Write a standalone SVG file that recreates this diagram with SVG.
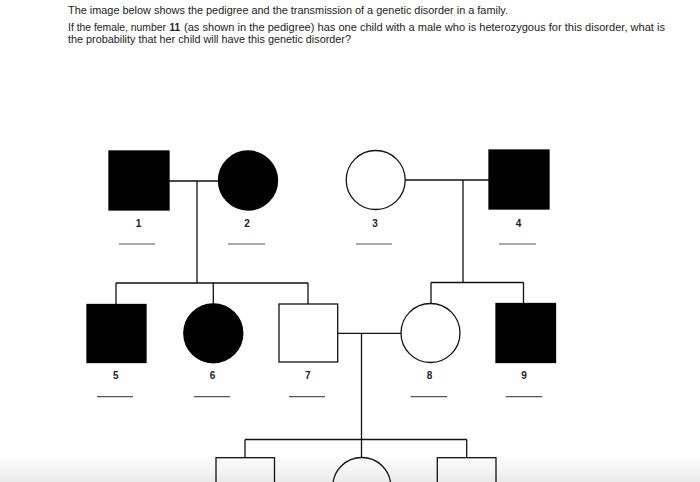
<svg xmlns="http://www.w3.org/2000/svg" width="700" height="482" viewBox="0 0 700 482">
<style>
.q{font-family:"Liberation Sans",Arial,sans-serif;font-size:10.5px;fill:#1a1a1a}
.lbl{font-family:"Liberation Sans",Arial,sans-serif;font-size:10px;font-weight:bold;fill:#222;text-anchor:middle}
.aff{fill:#000;stroke:#000;stroke-width:1.3}
.un{fill:#fff;stroke:#111;stroke-width:1.3}
.ln{stroke:#111;stroke-width:1.3;fill:none}
.ul{stroke:#555;stroke-width:1.2}
</style>
<defs>
<linearGradient id="fade" x1="0" y1="0" x2="0" y2="1">
<stop offset="0" stop-color="#000" stop-opacity="0"/>
<stop offset="1" stop-color="#000" stop-opacity="0.08"/>
</linearGradient>
</defs>
<rect width="700" height="482" fill="#fff"/>
<g id="question">
<text class="q" x="68" y="13.5" textLength="440" lengthAdjust="spacingAndGlyphs">The image below shows the pedigree and the transmission of a genetic disorder in a family.</text>
<text class="q" x="68" y="31" textLength="98" lengthAdjust="spacingAndGlyphs">If the female, number</text>
<text class="q" x="169.5" y="31" font-weight="bold" textLength="10.5" lengthAdjust="spacingAndGlyphs">11</text>
<text class="q" x="184" y="31" textLength="481" lengthAdjust="spacingAndGlyphs">(as shown in the pedigree) has one child with a male who is heterozygous for this disorder, what is</text>
<text class="q" x="68" y="42.5" textLength="283" lengthAdjust="spacingAndGlyphs">the probability that her child will have this genetic disorder?</text>
</g>
<g id="connectors">
<path class="ln" d="M169 181H218.5M197 181V283M116 283H308M116 283V304.5M213.3 283V304M308 283V304"/>
<path class="ln" d="M405.2 180H489M463 180V282.5M431 282.5H523.5M431 282.5V304M523.5 282.5V303.5"/>
<path class="ln" d="M337.7 333.3H401M361.5 333.3V457.5M245 439.5H466.7M245 439.5V457.7M466.7 439.5V457.7"/>
</g>
<g id="n1"><rect class="aff" x="109" y="151" width="60" height="59"/><text class="lbl" x="138.5" y="226.5">1</text><line class="ul" x1="119" y1="244" x2="155" y2="244"/></g>
<g id="n2"><circle class="aff" cx="248" cy="180.5" r="29.5"/><text class="lbl" x="247" y="226.5">2</text><line class="ul" x1="228" y1="244" x2="265" y2="244"/></g>
<g id="n3"><circle class="un" cx="375.7" cy="180" r="29.5"/><text class="lbl" x="375" y="226.5">3</text><line class="ul" x1="356" y1="244" x2="392" y2="244"/></g>
<g id="n4"><rect class="aff" x="489" y="150" width="60" height="59"/><text class="lbl" x="518.5" y="226.5">4</text><line class="ul" x1="499" y1="244" x2="536" y2="244"/></g>
<g id="n5"><rect class="aff" x="87" y="304.5" width="59" height="58"/><text class="lbl" x="115.7" y="379.3">5</text><line class="ul" x1="97" y1="396.7" x2="133" y2="396.7"/></g>
<g id="n6"><circle class="aff" cx="213.3" cy="333.3" r="29.5"/><text class="lbl" x="212.5" y="379.3">6</text><line class="ul" x1="194" y1="396.7" x2="230" y2="396.7"/></g>
<g id="n7"><rect class="un" x="279" y="304" width="58.7" height="58"/><text class="lbl" x="307.7" y="379.3">7</text><line class="ul" x1="289" y1="396.7" x2="325" y2="396.7"/></g>
<g id="n8"><circle class="un" cx="430.5" cy="333" r="29.5"/><text class="lbl" x="429.5" y="379.3">8</text><line class="ul" x1="410.7" y1="396.7" x2="447.3" y2="396.7"/></g>
<g id="n9"><rect class="aff" x="496" y="303.5" width="59.5" height="59"/><text class="lbl" x="524" y="379.3">9</text><line class="ul" x1="505.7" y1="396.7" x2="542.3" y2="396.7"/></g>
<g id="n10"><rect class="un" x="216" y="457.7" width="58.5" height="58.5"/></g>
<g id="n11"><circle class="un" cx="361.8" cy="486.5" r="29"/></g>
<g id="n12"><rect class="un" x="437.3" y="457.7" width="58.7" height="58.5"/></g>
<rect x="0" y="455" width="700" height="27" fill="url(#fade)"/>
</svg>
